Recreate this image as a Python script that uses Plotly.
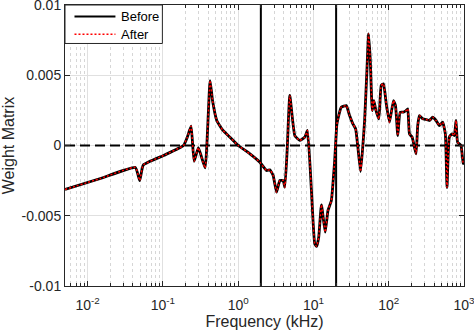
import math
import plotly.graph_objects as go

# Frequency (kHz) and weight values
freq_khz = [0.005, 0.01476, 0.0430, 0.0492, 0.0548, 0.102, 0.1876, 0.21, 0.2366, 0.2594,
            0.296, 0.363, 0.4227, 0.456, 0.519, 0.628, 0.778, 1.0, 1.432, 1.941,
            2.382, 2.636, 2.915, 3.234, 3.575, 3.954, 4.165, 4.47, 4.85, 5.65,
            6.58, 7.66, 8.32, 9.40, 10.4, 11.04, 11.75, 12.76, 14.32, 15.6,
            17.3, 19.14, 20.5, 23.4, 27.3, 30.2, 33.4, 36.3, 38.9, 42.3,
            47.8, 51.3, 54.0, 56.9, 60.4, 63.4, 66.8, 73.9, 79.5, 85.3,
            92.7, 102.4, 115.6, 123.0, 131.9, 141.9, 157.0, 170.3, 179.0, 188.4,
            204.6, 219.4, 231.0, 242.7, 255.9, 282.5, 313.5, 346.5, 383.4, 425.5,
            470.8, 520.4, 565.0, 594.5, 638.0, 693.0, 743.0, 783.0, 822.0, 912.0,
            977.0, 1000.0]
weight_before_milli = [-3.13, -2.35, -1.56, -2.49, -1.39, -0.71, 0.0, 0.57, 1.37, -1.12,
                       -0.16, -1.59, 4.62, 3.20, 1.78, 1.07, 0.59, 0.0, -0.59, -1.19,
                       -1.78, -1.73, -2.13, -3.32, -2.49, -2.49, -2.97, -0.36, 3.56, 0.71,
                       0.36, 0.59, 1.07, -3.20, -6.99, -7.18, -6.52, -4.23, -6.17, -4.62,
                       -3.91, -1.07, 1.54, 2.72, 2.84, 2.13, 1.54, 1.19, -0.12, -1.85,
                       1.78, 5.33, 7.94, 6.05, 2.49, 3.20, 2.61, 1.90, 4.27, 4.39,
                       2.97, 1.66, 3.20, 2.84, 0.71, 2.37, 2.37, 2.49, 2.61, 0.83,
                       0.59, -0.12, -0.59, 1.42, 2.13, 1.90, 1.85, 1.78, 2.01, 1.78,
                       1.42, 1.66, 0.83, -2.99, 0.59, 0.83, 0.71, 1.78, 0.23, 0.0,
                       -1.28, -1.30]
weight_before = [v * 1e-3 for v in weight_before_milli]
weight_after = list(weight_before)

series_names = ["Before", "After"]
boundary_freqs = [2, 20]
x_range_khz = [0.005, 1000]
y_range = [-0.01, 0.01]
y_ticks = [-0.01, -0.005, 0, 0.005, 0.01]
y_ticktext = ["-0.01", "-0.005", "0", "0.005", "0.01"]
x_ticks = [0.01, 0.1, 1, 10, 100, 1000]
x_ticktext = ["10<sup>-2</sup>", "10<sup>-1</sup>", "10<sup>0</sup>",
              "10<sup>1</sup>", "10<sup>2</sup>", "10<sup>3</sup>"]
x_minor_ticks = [m * 10.0 ** e for e in range(-3, 3) for m in range(2, 10)
                 if x_range_khz[0] <= m * 10.0 ** e <= x_range_khz[1]]

fig = go.Figure()

# zero reference line
fig.add_trace(go.Scatter(x=x_range_khz, y=[0, 0], mode="lines",
                         line=dict(color="black", width=2, dash="10px,5px"),
                         showlegend=False, hoverinfo="skip"))
# band boundaries
for f in boundary_freqs:
    fig.add_trace(go.Scatter(x=[f, f], y=y_range, mode="lines",
                             line=dict(color="black", width=2),
                             showlegend=False, hoverinfo="skip"))

before_line = dict(color="black", width=2.8, shape="spline", smoothing=0.4)
after_line = dict(color="#ff0000", width=1.5, dash="2px,2px", shape="spline", smoothing=0.4)
fig.add_trace(go.Scatter(x=freq_khz, y=weight_before, mode="lines", name=series_names[0],
                         line=before_line, showlegend=False))
fig.add_trace(go.Scatter(x=freq_khz, y=weight_after, mode="lines", name=series_names[1],
                         line=after_line, showlegend=False))

# ---- legend box drawn in paper coordinates (MATLAB-like compact legend)
PL, PR, PT, PB = 64.5, 464.0, 4.5, 285.7   # plot area in px
W, H = 474, 335

def px_x(px):
    return (px - PL) / (PR - PL)

def px_y(py):
    return 1 - (py - PT) / (PB - PT)

fig.add_shape(type="rect", xref="paper", yref="paper",
              x0=px_x(PL), x1=px_x(162), y0=px_y(43), y1=px_y(PT),
              line=dict(color="#262626", width=1), fillcolor="white", layer="above")
legend_rows = [16, 33.7]
legend_styles = [dict(color="black", width=2),
                 dict(color="#ff0000", width=1.5, dash="2px,2px")]
for name, row, style in zip(series_names, legend_rows, legend_styles):
    fig.add_shape(type="line", xref="paper", yref="paper",
                  x0=px_x(74), x1=px_x(115), y0=px_y(row), y1=px_y(row),
                  line=style, layer="above")
    fig.add_annotation(xref="paper", yref="paper", x=px_x(118.5), y=px_y(row),
                       xanchor="left", yanchor="middle", text=name, showarrow=False,
                       font=dict(size=13, color="black"))

font = "Liberation Sans, Arial, sans-serif"
eps = 1e-7
leps = 1e-6
fig.update_layout(
    width=W, height=H,
    margin=dict(l=PL, r=W - PR, t=PT, b=H - PB, autoexpand=False),
    paper_bgcolor="white", plot_bgcolor="white",
    font=dict(family=font, size=14, color="#262626"),
    showlegend=False,
    xaxis=dict(
        type="log", automargin=False,
        range=[math.log10(x_range_khz[0]) - leps, math.log10(x_range_khz[1]) + leps],
        tickvals=x_ticks, ticktext=x_ticktext,
        ticks="inside", ticklen=5, tickcolor="#262626",
        ticklabelstandoff=6, ticklabeloverflow="allow",
        showline=True, linecolor="#262626", linewidth=1, mirror="ticks",
        showgrid=True, gridcolor="#e0e0e0", gridwidth=1,
        minor=dict(tickmode="array", tickvals=x_minor_ticks,
                   ticks="inside", ticklen=3, tickcolor="#262626",
                   showgrid=True, gridcolor="#d6d6d6", griddash="dot", gridwidth=1),
        title=dict(text="Frequency (kHz)", font=dict(size=16, color="#262626"), standoff=2),
        zeroline=False,
    ),
    yaxis=dict(
        automargin=False,
        range=[y_range[0] - eps, y_range[1] + eps], tickvals=y_ticks, ticktext=y_ticktext,
        ticks="inside", ticklen=5, tickcolor="#262626",
        ticklabeloverflow="allow",
        showline=True, linecolor="#262626", linewidth=1, mirror="ticks",
        showgrid=True, gridcolor="#e0e0e0", gridwidth=1,
        title=dict(text="Weight Matrix", font=dict(size=16, color="#262626"), standoff=6),
        zeroline=False,
    ),
)

fig.write_html("out.html")
